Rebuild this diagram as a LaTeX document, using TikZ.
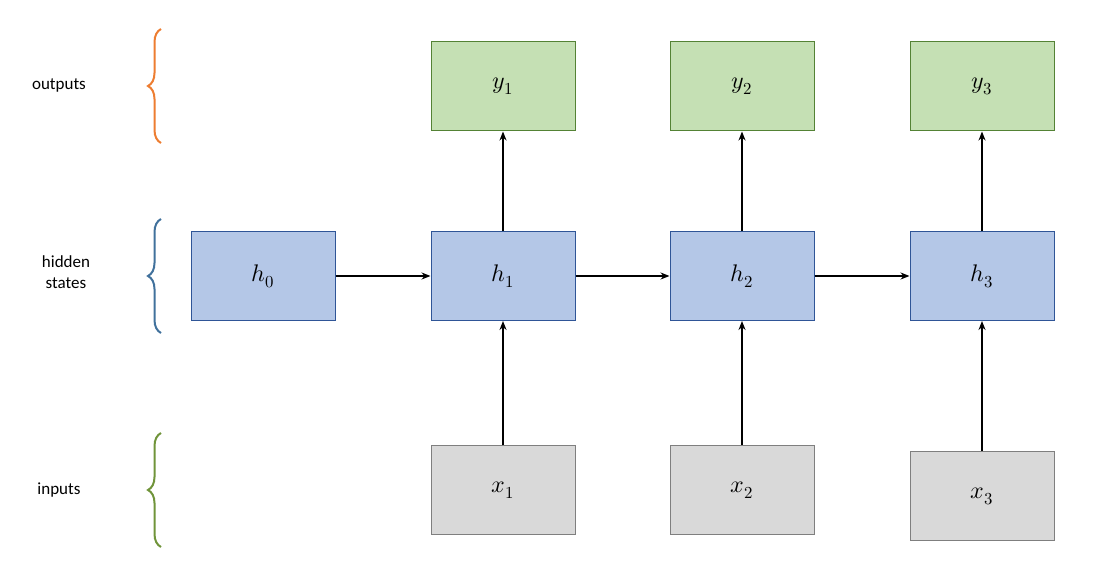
\documentclass[tikz,border=0pt]{standalone}
\usepackage{fontspec}
\setmainfont{Carlito}
\usepackage{unicode-math}
\setmathfont{Latin Modern Math}
\usetikzlibrary{decorations.pathreplacing,arrows.meta}
\definecolor{gf}{HTML}{C5E0B4}\definecolor{gd}{HTML}{548235}
\definecolor{bf}{HTML}{B4C7E7}\definecolor{bd}{HTML}{2F5597}
\definecolor{xf}{HTML}{D9D9D9}\definecolor{xd}{HTML}{7F7F7F}
\definecolor{ob}{HTML}{ED7D31}\definecolor{bb}{HTML}{41719C}\definecolor{gb}{HTML}{70943A}
\begin{document}
\begin{tikzpicture}[x=1pt,y=-1pt,
 box/.style={draw,line width=1pt,minimum width=144pt,minimum height=89pt,inner sep=0pt,font=\fontsize{24}{28}\selectfont},
 yb/.style={box,fill=gf,draw=gd},hb/.style={box,fill=bf,draw=bd},xb/.style={box,fill=xf,draw=xd},
 arr/.style={-{Stealth[length=9pt,width=7pt]},line width=1.8pt},
 lab/.style={font=\fontsize{17}{21}\selectfont,align=center},
 br/.style={decorate,decoration={brace,amplitude=13pt},line width=2pt}]
\useasboundingbox (0,0) rectangle (1095,564);
\node[yb] (y1) at (503,86.5) {$y_1$};
\node[yb] (y2) at (742,86.5) {$y_2$};
\node[yb] (y3) at (982,86.5) {$y_3$};
\node[hb] (h0) at (263,276) {$h_0$};
\node[hb] (h1) at (503,276) {$h_1$};
\node[hb] (h2) at (742,276) {$h_2$};
\node[hb] (h3) at (982,276) {$h_3$};
\node[xb] (x1) at (503,490) {$x_1$};
\node[xb] (x2) at (742,490) {$x_2$};
\node[xb] (x3) at (982,496) {$x_3$};
\foreach \i in {1,2,3}{\draw[arr] (x\i) -- (h\i); \draw[arr] (h\i) -- (y\i);}
\draw[arr] (h0) -- (h1); \draw[arr] (h1) -- (h2); \draw[arr] (h2) -- (h3);
\node[lab] (lo) at (59,85) {outputs};
\node[lab] (lh) at (66,272) {hidden\\states};
\node[lab] (li) at (59,490) {inputs};
\coordinate (o1) at (161,143); \coordinate (o2) at (161,29);
\coordinate (b1) at (161,333); \coordinate (b2) at (161,219);
\coordinate (i1) at (161,547); \coordinate (i2) at (161,433);
\draw[br,draw=ob] (o1) -- (o2);
\draw[br,draw=bb] (b1) -- (b2);
\draw[br,draw=gb] (i1) -- (i2);
\end{tikzpicture}
\end{document}
